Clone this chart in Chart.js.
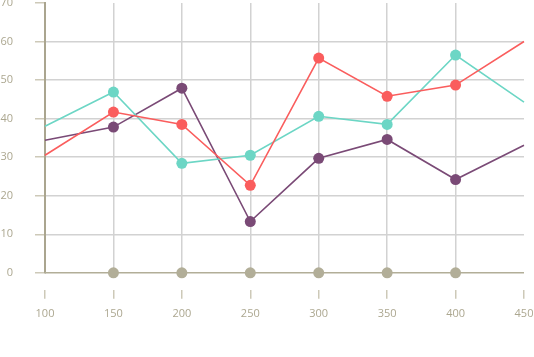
<!DOCTYPE html>
<html><head><meta charset="utf-8">
<script src="https://cdn.jsdelivr.net/npm/chart.js@4"></script>
<style>html,body{margin:0;padding:0;background:#fff}#wrap{width:534px;height:357px;position:relative}</style>
</head><body><div id="wrap"><canvas id="c"></canvas></div>
<script>
const xValues = [100, 150, 200, 250, 300, 350, 400, 450];
const redValues = [30.5, 41.7, 38.5, 22.7, 55.7, 45.8, 48.7, 60];
const tealValues = [38, 46.9, 28.4, 30.5, 40.6, 38.5, 56.5, 44.3];
const purpleValues = [34.4, 37.8, 47.9, 13.3, 29.7, 34.6, 24.2, 33.1];
const grayValues = [0, 0, 0, 0, 0, 0, 0, 0];
const xTickValues = [100, 150, 200, 250, 300, 350, 400, 450];
const yTickValues = [0, 10, 20, 30, 40, 50, 60, 70];

const tan = '#aaa58f';
const labelColor = '#aca790';
const tickMarkColor = '#cdc9b8';
const gridColor = '#d2d2d2';

function pts(vals){ return vals.map((v,i)=>({x:xValues[i], y:v})); }
const lastIdx = xValues.length - 1;
const radius = ctx => (ctx.dataIndex === 0 || ctx.dataIndex === lastIdx) ? 0 : 5.5;
function ds(vals, color){
  return {data: pts(vals), borderColor: color, backgroundColor: color, borderWidth: 1.6,
    pointRadius: radius, pointHoverRadius: radius, pointBorderWidth: 0, tension: 0, clip: false};
}

new Chart(document.getElementById('c'), {
  type: 'line',
  data: { datasets: [
    ds(redValues, '#fa5d5d'),
    ds(tealValues, '#6cd6c5'),
    ds(purpleValues, '#7a4a76'),
    ds(grayValues, '#b2ae98')
  ]},
  options: {
    responsive: true, maintainAspectRatio: false, animation: false,
    layout: { padding: { top: 0, bottom: 29, left: 0, right: 0 } },
    plugins: { legend: { display: false }, tooltip: { enabled: false } },
    scales: {
      x: {
        type: 'linear', min: 100, max: 450,
        afterBuildTicks: s => { s.ticks = xTickValues.map(v => ({value: v})); },
        afterFit: s => { s.paddingLeft = 0; s.paddingRight = 10; },
        border: { display: false },
        grid: {
          color: c => (c.tick && (c.tick.value === 100 || c.tick.value === 450)) ? 'rgba(0,0,0,0)' : gridColor,
          lineWidth: 1.5,
          tickColor: tickMarkColor, tickWidth: 1.5, tickLength: 26,
          tickBorderDash: [9, 17], tickBorderDashOffset: 9
        },
        ticks: { color: labelColor, font: { family: 'Open Sans', size: 11 }, padding: 8, maxRotation: 0 }
      },
      y: {
        min: 0, max: 70,
        afterBuildTicks: s => { s.ticks = yTickValues.map(v => ({value: v})); },
        afterFit: s => { s.width = 45; s.paddingTop = 3; s.paddingBottom = 0; },
        border: { display: true, color: tan, width: 2 },
        grid: {
          color: c => (c.tick && (c.tick.value === 0 || c.tick.value === 70)) ? 'rgba(0,0,0,0)' : gridColor,
          lineWidth: 1.5,
          tickColor: tickMarkColor, tickWidth: 1.5, tickLength: 25,
          tickBorderDash: [10, 15], tickBorderDashOffset: 10
        },
        ticks: { color: labelColor, font: { family: 'Open Sans', size: 11 }, padding: 7 }
      }
    }
  }
});
</script>
</body></html>
